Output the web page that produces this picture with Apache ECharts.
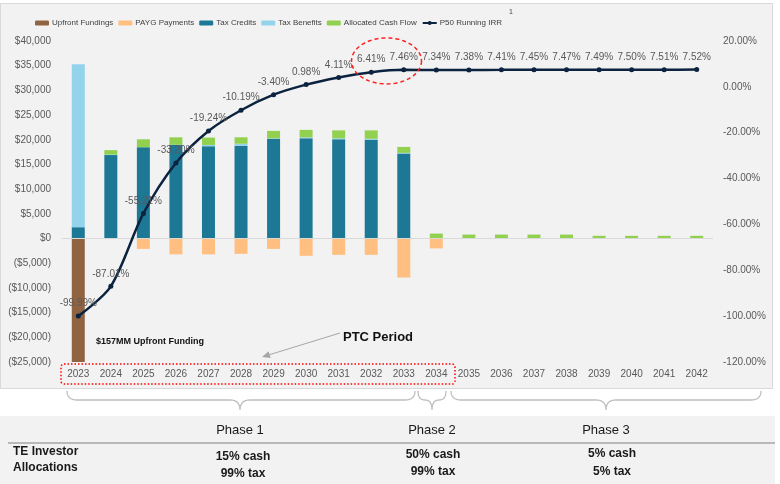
<!DOCTYPE html>
<html>
<head>
<meta charset="utf-8">
<script src="https://cdn.jsdelivr.net/npm/echarts@6/dist/echarts.min.js"></script>
<style>
html,body{margin:0;padding:0;background:#fff;}
#main{width:780px;height:484px;}
</style>
</head>
<body>
<div id="main"></div>
<script>
const years = ['2023','2024','2025','2026','2027','2028','2029','2030','2031','2032','2033','2034','2035','2036','2037','2038','2039','2040','2041','2042'];
const upfrontFundings   = [-25000, 0, 0, 0, 0, 0, 0, 0, 0, 0, 0, 0, 0, 0, 0, 0, 0, 0, 0, 0];
const paygPayments      = [0, -100, -2100, -3200, -3200, -3100, -2100, -3500, -3300, -3300, -7900, -2000, 0, 0, 0, 0, 0, 0, 0, 0];
const taxCredits        = [2300, 16900, 18500, 19000, 18700, 18800, 20200, 20300, 20100, 20000, 17200, 0, 0, 0, 0, 0, 0, 0, 0, 0];
const taxBenefits       = [33000, 100, 0, 0, 250, 400, 100, 200, 200, 200, 150, 0, 0, 0, 0, 0, 0, 0, 0, 0];
const allocatedCashFlow = [0, 900, 1600, 1500, 1500, 1300, 1500, 1500, 1600, 1700, 1200, 1000, 800, 800, 800, 800, 550, 550, 550, 550];
const p50RunningIRR     = [-99.99, -87.01, -55.21, -33.20, -19.24, -10.19, -3.40, 0.98, 4.11, 6.41, 7.46, 7.34, 7.38, 7.41, 7.45, 7.47, 7.49, 7.50, 7.51, 7.52];

const leftMin = -25000, leftMax = 40000, leftStep = 5000;
const rightMin = -120, rightMax = 20, rightStep = 20;

const FONT = "'Liberation Sans', Arial, sans-serif";

function money(v){
  if (v === 0) return '$0';
  const s = '$' + Math.abs(v).toLocaleString('en-US');
  return v < 0 ? '(' + s + ')' : s;
}

const chart = echarts.init(document.getElementById('main'));
const barW = 13;
const option = {
  backgroundColor: '#ffffff',
  animation: false,
  textStyle: { fontFamily: FONT },
  legend: {
    left: 30, top: 14,
    itemWidth: 14, itemHeight: 5, itemGap: 5,
    textStyle: { fontFamily: FONT, fontSize: 8, color: '#404040', padding: [0,0,0,-2] },
    data: ['Upfront Fundings','PAYG Payments','Tax Credits','Tax Benefits','Allocated Cash Flow','P50 Running IRR']
  },
  grid: { left: 62, right: 67, top: 41, bottom: 122, containLabel: false },
  xAxis: {
    type: 'category', data: years,
    axisLine: { show: false, onZero: false },
    axisTick: { show: false },
    axisLabel: { color: '#595959', fontSize: 10, margin: 7, interval: 0 }
  },
  yAxis: [
    {
      type: 'value', min: leftMin, max: leftMax, interval: leftStep,
      splitLine: { show: false }, axisLine: { show: false }, axisTick: { show: false },
      axisLabel: { color: '#595959', fontSize: 10, margin: 11, formatter: money }
    },
    {
      type: 'value', min: rightMin, max: rightMax, interval: rightStep,
      splitLine: { show: false }, axisLine: { show: false }, axisTick: { show: false },
      axisLabel: { color: '#595959', fontSize: 10, margin: 10, formatter: v => v.toFixed(2) + '%' }
    }
  ],
  series: [
    { name: 'Upfront Fundings', type: 'bar', stack: 'cf', barWidth: barW, data: upfrontFundings,
      itemStyle: { color: '#916441' },
      markLine: { silent: true, symbol: 'none', label: { show: false },
        lineStyle: { color: '#d9d9d9', width: 1, type: 'solid' }, data: [{ yAxis: 0 }] } },
    { name: 'PAYG Payments', type: 'bar', stack: 'cf', barWidth: barW, data: paygPayments, itemStyle: { color: '#ffbf80' } },
    { name: 'Tax Credits', type: 'bar', stack: 'cf', barWidth: barW, data: taxCredits, itemStyle: { color: '#1d7896' } },
    { name: 'Tax Benefits', type: 'bar', stack: 'cf', barWidth: barW, data: taxBenefits, itemStyle: { color: '#93d3ec' } },
    { name: 'Allocated Cash Flow', type: 'bar', stack: 'cf', barWidth: barW, data: allocatedCashFlow, itemStyle: { color: '#92d050' } },
    { name: 'P50 Running IRR', type: 'line', yAxisIndex: 1, data: p50RunningIRR, smooth: 0.3,
      symbol: 'circle', symbolSize: 5,
      lineStyle: { color: '#0c2340', width: 2.5 },
      itemStyle: { color: '#0c2340' },
      label: { show: true, position: 'top', distance: 5, color: '#595959', fontSize: 10,
        formatter: p => p.value.toFixed(2) + '%' },
      z: 5 }
  ]
};
chart.setOption(option);

// annotations
const a0 = [340, 333], a1 = [262, 357];
const dx = a1[0]-a0[0], dy = a1[1]-a0[1], L = Math.hypot(dx, dy);
const ux = dx/L, uy = dy/L, hl = 8, hw = 3.5;
const base = [a1[0]-ux*hl, a1[1]-uy*hl];
const arrowHead = [a1, [base[0]-uy*hw, base[1]+ux*hw], [base[0]+uy*hw, base[1]-ux*hw]];

const p32 = chart.convertToPixel({ xAxisIndex: 0, yAxisIndex: 1 }, [years[9], p50RunningIRR[9]]);
const p33 = chart.convertToPixel({ xAxisIndex: 0, yAxisIndex: 1 }, [years[10], p50RunningIRR[10]]);
const ex = (p32[0]+p33[0])/2 - 1, ey = (p32[1]+p33[1])/2 - 10;
const ellipsePts = [];
for (let i = 0; i < 72; i++) {
  const t = i / 72 * Math.PI * 2;
  ellipsePts.push([ex + 35 * Math.cos(t), ey + 23 * Math.sin(t)]);
}

// curly brace as polyline sampled from quadratic curves
function quad(p0, c, p1, out) {
  for (let i = 0; i <= 8; i++) {
    const t = i / 8, m = 1 - t;
    out.push([m*m*p0[0] + 2*m*t*c[0] + t*t*p1[0], m*m*p0[1] + 2*m*t*c[1] + t*t*p1[1]]);
  }
}
function brace(x0, x1, tip, top, mid, bot, r) {
  const pts = [];
  quad([x0, top], [x0, mid], [x0 + r, mid], pts);
  quad([tip - r, mid], [tip, mid], [tip, bot], pts);
  quad([tip, bot], [tip, mid], [tip + r, mid], pts);
  quad([x1 - r, mid], [x1, mid], [x1, top], pts);
  return { type: 'polyline', z: 10, shape: { points: pts }, style: { fill: 'none', stroke: '#bfbfbf', lineWidth: 1.3 } };
}

const dark = '#1a1a1a';
function txt(x, y, text, size, bold, align, color) {
  return { type: 'text', z: 100, x: x, y: y, style: { text: text, fontSize: size, fontWeight: bold ? 'bold' : 'normal',
    fill: color || dark, fontFamily: FONT, align: align || 'left', verticalAlign: 'middle' } };
}

// place the superscript just after the legend
let supX = 500;
try {
  const lv = chart.getModel().getComponent('legend');
  const view = chart.getViewOfComponentModel(lv);
  const r = view.group.getBoundingRect();
  supX = view.group.x + r.x + r.width + 2;
} catch (e) {}

chart.setOption({
  graphic: [
    { type: 'rect', z: -10, shape: { x: 0.5, y: 3.5, width: 772, height: 385 }, style: { fill: '#f2f2f2', stroke: '#d9d9d9', lineWidth: 1 } },
    { type: 'rect', z: -10, shape: { x: 0, y: 416, width: 775, height: 68 }, style: { fill: '#f2f2f2' } },
    { type: 'line', z: 10, shape: { x1: 8, y1: 443, x2: 775, y2: 443 }, style: { stroke: '#a6a6a6', lineWidth: 1.5 } },
    txt(supX, 12, '1', 7, false, 'left', '#404040'),
    brace(67, 415, 240, 391, 400, 410, 10),
    brace(418, 446, 432, 391, 400, 410, 7),
    brace(451, 761, 606, 391, 400, 410, 10),
    txt(240, 430, 'Phase 1', 13, false, 'center'),
    txt(432, 430, 'Phase 2', 13, false, 'center'),
    txt(606, 430, 'Phase 3', 13, false, 'center'),
    txt(13, 452, 'TE Investor', 12, true),
    txt(13, 468, 'Allocations', 12, true),
    txt(243, 457, '15% cash', 12, true, 'center'),
    txt(243, 474, '99% tax', 12, true, 'center'),
    txt(433, 455, '50% cash', 12, true, 'center'),
    txt(433, 472, '99% tax', 12, true, 'center'),
    txt(612, 454, '5% cash', 12, true, 'center'),
    txt(612, 472, '5% tax', 12, true, 'center'),
    txt(96, 342, '$157MM Upfront Funding', 9, true, 'left', '#111'),
    txt(343, 337, 'PTC Period', 13, true, 'left', '#111'),
    { type: 'line', z: 100, shape: { x1: a0[0], y1: a0[1], x2: base[0], y2: base[1] }, style: { stroke: '#a6a6a6', lineWidth: 1 } },
    { type: 'polygon', z: 100, shape: { points: arrowHead }, style: { fill: '#a6a6a6' } },
    { type: 'rect', z: 100, shape: { x: 61, y: 364, width: 394, height: 20, r: 3 }, style: { fill: 'none', stroke: '#ff0000', lineWidth: 1.5, lineDash: [1.5, 2] } },
    { type: 'polygon', z: 100, shape: { points: ellipsePts }, style: { fill: 'none', stroke: '#ff2020', lineWidth: 1.5, lineDash: [4, 3] } }
  ]
});
</script>
</body>
</html>
